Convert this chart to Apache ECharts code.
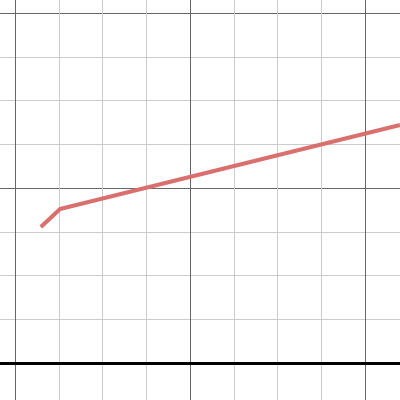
<!DOCTYPE html>
<html>
<head>
<meta charset="utf-8">
<script src="https://cdn.jsdelivr.net/npm/echarts@6/dist/echarts.min.js"></script>
<style>
html,body{margin:0;padding:0;background:#fff;width:400px;height:400px;overflow:hidden}
#wrap{width:400px;height:400px;overflow:hidden;position:relative}
/* chart canvas is bigger than the window and shifted so the visible part matches */
#main{width:700px;height:700px;position:absolute;left:-160px;top:-162px}
</style>
</head>
<body>
<div id="wrap"><div id="main"></div></div>
<script>
// curve points (grid units)
var xs = [0.59, 1.03, 8.8];
var ys = [3.11, 3.52, 5.44];

var chart = echarts.init(document.getElementById('main'));
var pts = [];
for (var i = 0; i < xs.length; i++) pts.push([xs[i], ys[i]]);

chart.setOption({
  animation: false,
  grid: { left: 0, right: 0, top: 0, bottom: 0 },
  xAxis: {
    type: 'value', min: -4, max: 12, interval: 4,
    axisLabel: { show: false }, axisTick: { show: false },
    axisLine: { show: true, onZero: true, lineStyle: { color: '#000', width: 3 } },
    splitLine: { show: true, lineStyle: { color: '#666', width: 1 } },
    minorTick: { show: false, splitNumber: 4 },
    minorSplitLine: { show: true, lineStyle: { color: '#ccc', width: 1 } }
  },
  yAxis: {
    type: 'value', min: -4, max: 12, interval: 4,
    axisLabel: { show: false }, axisTick: { show: false },
    axisLine: { show: false },
    splitLine: { show: true, lineStyle: { color: '#666', width: 1 } },
    minorTick: { show: false, splitNumber: 4 },
    minorSplitLine: { show: true, lineStyle: { color: '#ccc', width: 1 } }
  },
  series: [{
    type: 'line',
    data: pts,
    showSymbol: false,
    lineStyle: { color: '#d9706d', width: 4 }
  }]
});
</script>
</body>
</html>
